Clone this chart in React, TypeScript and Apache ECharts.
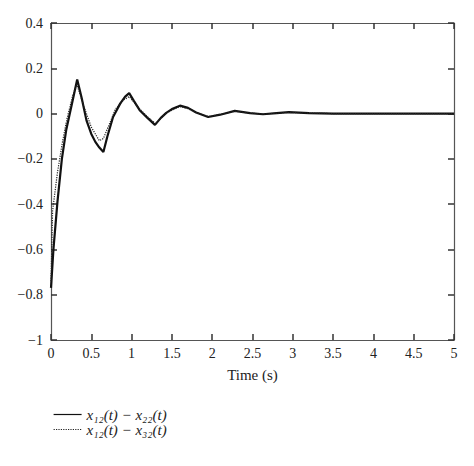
import { useRef, useEffect } from "react";
import * as echarts from "echarts";

// 时间点与两条误差曲线
const tSolid = [
  0, 0.03, 0.08, 0.135, 0.19, 0.27, 0.325, 0.38, 0.44, 0.5, 0.55, 0.6, 0.65,
  0.7, 0.77, 0.86, 0.92, 0.97, 1.03, 1.1, 1.2, 1.29, 1.36, 1.43, 1.5, 1.6,
  1.7, 1.8, 1.95, 2.1, 2.28, 2.47, 2.63, 2.8, 2.95, 3.2, 3.5, 4, 4.5, 5,
];
const ySolid = [
  -0.77, -0.6, -0.39, -0.2, -0.07, 0.06, 0.15, 0.07, -0.03, -0.09, -0.125,
  -0.15, -0.17, -0.1, -0.015, 0.045, 0.075, 0.09, 0.055, 0.015, -0.02, -0.05,
  -0.02, 0.003, 0.02, 0.035, 0.025, 0.005, -0.015, -0.005, 0.012, 0.002,
  -0.003, 0.002, 0.006, 0.002, 0, 0, 0, 0,
];
const tDotted = [
  0, 0.02, 0.08, 0.145, 0.2, 0.27, 0.32, 0.4, 0.5, 0.6, 0.65, 0.72, 0.8, 0.9,
  0.97, 1.1, 1.2, 1.3, 1.43, 1.6, 1.7, 1.8, 1.95, 2.1, 2.28, 2.47, 2.63, 2.8,
  2.95, 3.2, 3.5, 4, 4.5, 5,
];
const yDotted = [
  -0.74, -0.43, -0.26, -0.12, -0.02, 0.08, 0.13, 0.04, -0.06, -0.12, -0.11,
  -0.05, 0.02, 0.06, 0.075, 0.02, -0.015, -0.045, 0.003, 0.03, 0.022, 0.005,
  -0.013, -0.004, 0.01, 0.002, -0.002, 0.002, 0.005, 0.002, 0, 0, 0, 0,
];
const seriesNames = ["x₁₂(t) − x₂₂(t)", "x₁₂(t) − x₃₂(t)"];

const font = "Liberation Serif";
const axisColor = "#555";

const axisLine = () => ({
  show: true,
  onZero: false,
  lineStyle: { color: axisColor, width: 1.2 },
});
const axisTick = () => ({
  show: true,
  inside: true,
  length: 6,
  lineStyle: { color: "#333", width: 1.5 },
});
const fmt = (v: number) => String(+v.toFixed(1)).replace("-", "−");

const App = () => {
  const chartRef = useRef<HTMLDivElement>(null);

  useEffect(() => {
    const myChart = echarts.init(chartRef.current, undefined, {
      renderer: "svg",
    });
    const option = {
      animation: false,
      grid: { left: 43, right: 12, top: 15, bottom: 118 },
      legend: {
        orient: "vertical",
        left: 40,
        top: 394,
        itemWidth: 28,
        itemHeight: 12,
        itemGap: 0,
        data: seriesNames,
        itemStyle: { opacity: 0 },
        lineStyle: { width: 1.2 },
        textStyle: { fontFamily: font, fontStyle: "italic", fontSize: 15, color: "#222" },
      },
      xAxis: [
        {
          type: "value",
          min: 0,
          max: 5,
          interval: 0.5,
          name: "Time (s)",
          nameLocation: "middle",
          nameGap: 27,
          nameTextStyle: { fontFamily: font, fontSize: 15, color: "#222" },
          axisLine: axisLine(),
          axisTick: axisTick(),
          splitLine: { show: false },
          axisLabel: { fontFamily: font, fontSize: 14, color: "#222", margin: 6, formatter: fmt },
        },
        {
          type: "value",
          position: "top",
          min: 0,
          max: 5,
          interval: 0.5,
          axisLine: axisLine(),
          axisTick: axisTick(),
          splitLine: { show: false },
          axisLabel: { show: false },
        },
      ],
      yAxis: [
        {
          type: "value",
          min: -1,
          max: 0.4,
          interval: 0.2,
          axisLine: axisLine(),
          axisTick: axisTick(),
          splitLine: { show: false },
          axisLabel: { fontFamily: font, fontSize: 14, color: "#222", margin: 8, formatter: fmt },
        },
        {
          type: "value",
          position: "right",
          min: -1,
          max: 0.4,
          interval: 0.2,
          axisLine: axisLine(),
          axisTick: axisTick(),
          splitLine: { show: false },
          axisLabel: { show: false },
        },
      ],
      series: [
        {
          name: seriesNames[0],
          type: "line",
          symbol: "none",
          data: tSolid.map((t, i) => [t, ySolid[i]]),
          lineStyle: { color: "#111", width: 2.2 },
          itemStyle: { color: "#111" },
        },
        {
          name: seriesNames[1],
          type: "line",
          symbol: "none",
          data: tDotted.map((t, i) => [t, yDotted[i]]),
          lineStyle: { color: "#222", width: 1.2, type: "dotted" },
          itemStyle: { color: "#222" },
        },
      ],
    };
    myChart.setOption(option);
    return () => {
      myChart.dispose();
    };
  }, []);

  return <div ref={chartRef} style={{ width: "458px", height: "450px" }}></div>;
};

export default App;
